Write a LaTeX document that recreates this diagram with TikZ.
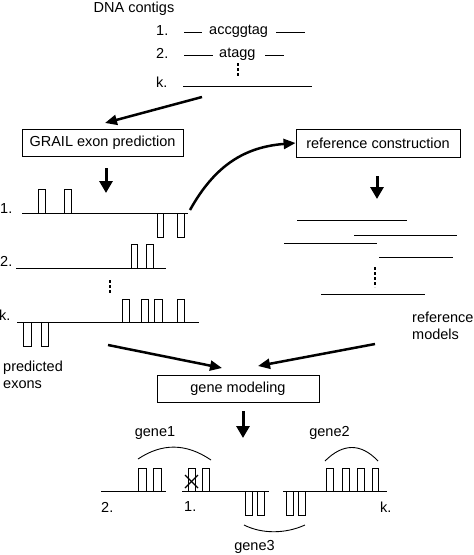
\documentclass[tikz,border=0pt]{standalone}
\usepackage{fontspec}
\setmainfont{Liberation Sans}
\usetikzlibrary{arrows.meta}
\begin{document}
\begin{tikzpicture}[x=1pt,y=-1pt,
  txt/.style={inner sep=0pt,font=\fontsize{14.5}{16.5}\selectfont},
  procbox/.style={draw,line width=0.8pt,inner sep=0pt,font=\fontsize{14.5}{16.5}\selectfont},
  thin/.style={line width=0.9pt},
  exon/.style={draw,line width=0.8pt},
  fatarrow/.style={line width=2.5pt,-{Triangle[length=12pt,width=10pt]}},
  downarrow/.style={line width=3pt,-{Triangle[length=12pt,width=13pt]}},
  dotsline/.style={line width=1.6pt,dash pattern=on 3pt off 2pt}]
\useasboundingbox (0,0) rectangle (474,555);

% DNA contigs
\node[txt] (title) at (134,9) {DNA contigs};
\node[txt,anchor=base west] (c1) at (156,35) {1.};
\node[txt,anchor=base west] (s1) at (209,34) {accggtag};
\node[txt,anchor=base west] (c2) at (156,58) {2.};
\node[txt,anchor=base west] (s2) at (219,57) {atagg};
\node[txt,anchor=base west] (ck) at (156,87) {k.};
\draw[thin] (184,32) -- (202,32);
\draw[thin] (276,32) -- (305,32);
\draw[thin] (184,55) -- (213,55);
\draw[thin] (265,55) -- (284,55);
\draw[dotsline] (238,63) -- (238,77);
\draw[thin] (183,86) -- (312,86);

% boxes
\node[procbox,minimum width=161pt,minimum height=27pt] (grail) at (102.5,142.5) {GRAIL exon prediction};
\node[procbox,minimum width=164pt,minimum height=28pt] (refc) at (378,143) {reference construction};
\node[procbox,minimum width=162pt,minimum height=27pt] (gm) at (238,388.5) {gene modeling};

% arrows
\coordinate (a1s) at (202,97);
\coordinate (a1e) at (105,123);
\draw[fatarrow] (a1s) -- (a1e);
\coordinate (d1s) at (106,168);
\coordinate (d1e) at (106,193);
\draw[downarrow] (d1s) -- (d1e);
\coordinate (d2s) at (377,176);
\coordinate (d2e) at (377,199);
\draw[downarrow] (d2s) -- (d2e);
\coordinate (d3s) at (243,411);
\coordinate (d3e) at (243,438);
\draw[downarrow] (d3s) -- (d3e);
\coordinate (cs) at (190,210);
\draw[fatarrow] (cs) .. controls (215,165) and (245,147) .. (refc.west);
\coordinate (l1s) at (108,345);
\coordinate (l1e) at (222,368);
\draw[fatarrow] (l1s) -- (l1e);
\coordinate (r1s) at (375,344);
\coordinate (r1e) at (258,366);
\draw[fatarrow] (r1s) -- (r1e);

% predicted exon tracks
\node[txt,anchor=west] (p1) at (0,209) {1.};
\draw[thin] (22,213) -- (188,213);
\draw[exon] (38,189) rectangle (45,213);
\draw[exon] (64,189) rectangle (71,213);
\draw[exon] (157,213) rectangle (163,237);
\draw[exon] (177,213) rectangle (184,237);

\node[txt,anchor=west] (p2) at (0,261) {2.};
\draw[thin] (16,268) -- (166,268);
\draw[exon] (131,244) rectangle (137,268);
\draw[exon] (146,244) rectangle (153,268);

\draw[dotsline] (110,280) -- (110,294);

\node[txt,anchor=west] (pk) at (-1,315) {k.};
\draw[thin] (17,322) -- (199,322);
\draw[exon] (122,299) rectangle (129,322);
\draw[exon] (141,299) rectangle (148,322);
\draw[exon] (154,299) rectangle (162,322);
\draw[exon] (177,299) rectangle (184,322);
\draw[exon] (23,322) rectangle (31,346);
\draw[exon] (41,322) rectangle (48,346);

\node[txt,anchor=west,align=left] (pe) at (3,375) {predicted\\exons};

% reference models
\draw[thin] (297,220) -- (407,220);
\draw[thin] (354,235) -- (457,235);
\draw[thin] (284,243) -- (377,243);
\draw[thin] (379,257) -- (453,257);
\draw[dotsline] (375,267) -- (375,287);
\draw[thin] (321,294) -- (425,294);
\node[txt,anchor=west,align=left] (rm) at (412,326) {reference\\models};

% gene models
\node[txt] (g1) at (155,433) {gene1};
\node[txt] (g2) at (329.5,433) {gene2};
\node[txt] (g3) at (254.5,547) {gene3};
\draw[thin] (138,459) .. controls (162,443) and (186,443) .. (211,460);
\draw[thin] (325,461) .. controls (343,443) and (361,443) .. (378,461);
\draw[thin] (244,525) .. controls (262,534) and (285,534) .. (305,525);

\draw[thin] (101,491) -- (166,491);
\draw[exon] (138,468) rectangle (146,491);
\draw[exon] (153,468) rectangle (161,491);

\draw[thin] (182,491) -- (269,491);
\draw[exon] (188,468) rectangle (195,491);
\draw[exon] (202,468) rectangle (209,491);
\draw[exon] (245,491) rectangle (252,515);
\draw[exon] (257,491) rectangle (264,515);
\draw[line width=1.1pt] (185,475) -- (198,488);
\draw[line width=1.1pt] (185,488) -- (198,475);

\draw[thin] (283,491) -- (387,491);
\draw[exon] (286,491) rectangle (293,515);
\draw[exon] (298,491) rectangle (305,515);
\draw[exon] (326,468) rectangle (333,491);
\draw[exon] (342,468) rectangle (349,491);
\draw[exon] (357,468) rectangle (364,491);
\draw[exon] (372,468) rectangle (378,491);

\node[txt,anchor=west] (b2) at (101,507) {2.};
\node[txt,anchor=west] (b1) at (184,507) {1.};
\node[txt,anchor=west] (bk) at (380,507) {k.};
\end{tikzpicture}
\end{document}
